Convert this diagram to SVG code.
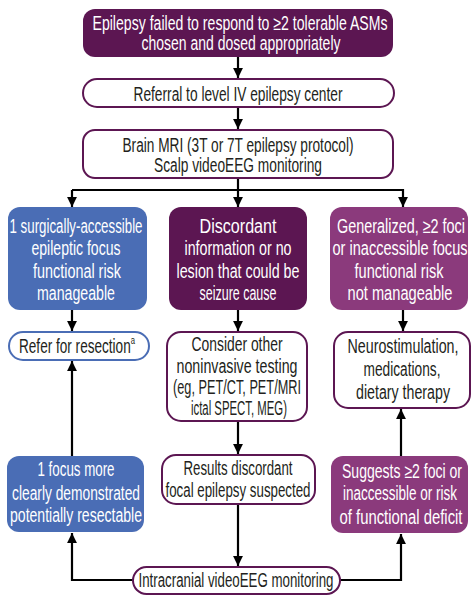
<svg xmlns="http://www.w3.org/2000/svg" width="474" height="604" viewBox="0 0 474 604">
<style>
text{font-family:"Liberation Sans",Arial,sans-serif;font-size:19.5px;text-anchor:middle;dominant-baseline:central;fill:#231f20}
.w{fill:#ffffff}
.dp{fill:#5c1652}
.bl{fill:#4a6db5}
.mp{fill:#8b3a7c}
.ow{fill:#ffffff;stroke:#5c1652;stroke-width:2}
.ob{fill:#ffffff;stroke:#4a6db5;stroke-width:2}
.c path{fill:none;stroke:#000;stroke-width:2.2}
</style>
<defs>
<marker id="ah" viewBox="0 0 10 10" refX="10" refY="5" markerWidth="4.5" markerHeight="4.5" orient="auto" markerUnits="strokeWidth">
<path d="M0,0 L10,5 L0,10 z" fill="#000"/>
</marker>
</defs>
<g class="c">
<path d="M238,57 V78" marker-end="url(#ah)"/>
<path d="M238,107 V129" marker-end="url(#ah)"/>
<path d="M238,178 V190"/>
<path d="M72,190 H403 V207" marker-end="url(#ah)"/>
<path d="M72,190 V207" marker-end="url(#ah)"/>
<path d="M238,190 V207" marker-end="url(#ah)"/>
<path d="M72,310 V331" marker-end="url(#ah)"/>
<path d="M238,310 V331" marker-end="url(#ah)"/>
<path d="M403,310 V331" marker-end="url(#ah)"/>
<path d="M72,456 V361" marker-end="url(#ah)"/>
<path d="M238,421 V454" marker-end="url(#ah)"/>
<path d="M401,456 V409" marker-end="url(#ah)"/>
<path d="M238,504 V566" marker-end="url(#ah)"/>
<path d="M133,580 H72 V533" marker-end="url(#ah)"/>
<path d="M340,580 H401 V534" marker-end="url(#ah)"/>
</g>
<g id="n1"><rect class="dp" x="83" y="9" width="310" height="48" rx="12"/><text class="w" x="240" y="23" textLength="295" lengthAdjust="spacingAndGlyphs">Epilepsy failed to respond to ≥2 tolerable ASMs</text><text class="w" x="241" y="43" textLength="199" lengthAdjust="spacingAndGlyphs">chosen and dosed appropriately</text></g>
<g id="n2"><rect class="ow" x="83" y="79" width="311" height="28" rx="14"/><text x="238" y="94" textLength="209" lengthAdjust="spacingAndGlyphs">Referral to level IV epilepsy center</text></g>
<g id="n3"><rect class="ow" x="83" y="130" width="310" height="48" rx="12"/><text x="238" y="145" textLength="231" lengthAdjust="spacingAndGlyphs">Brain MRI (3T or 7T epilepsy protocol)</text><text x="238" y="165" textLength="168" lengthAdjust="spacingAndGlyphs">Scalp videoEEG monitoring</text></g>
<g id="n4"><rect class="bl" x="8" y="207" width="139" height="103" rx="12"/><text class="w" x="76" y="226" textLength="133" lengthAdjust="spacingAndGlyphs">1 surgically-accessible</text><text class="w" x="76" y="248" textLength="89" lengthAdjust="spacingAndGlyphs">epileptic focus</text><text class="w" x="77" y="271" textLength="88" lengthAdjust="spacingAndGlyphs">functional risk</text><text class="w" x="76" y="293" textLength="78" lengthAdjust="spacingAndGlyphs">manageable</text></g>
<g id="n5"><rect class="dp" x="169" y="207" width="138" height="103" rx="12"/><text class="w" x="238" y="226" textLength="77" lengthAdjust="spacingAndGlyphs">Discordant</text><text class="w" x="238" y="248" textLength="107" lengthAdjust="spacingAndGlyphs">information or no</text><text class="w" x="238" y="271" textLength="123" lengthAdjust="spacingAndGlyphs">lesion that could be</text><text class="w" x="238" y="293" textLength="77" lengthAdjust="spacingAndGlyphs">seizure cause</text></g>
<g id="n6"><rect class="mp" x="330" y="207" width="138" height="103" rx="12"/><text class="w" x="401" y="226" textLength="128" lengthAdjust="spacingAndGlyphs">Generalized, ≥2 foci</text><text class="w" x="400" y="248" textLength="135" lengthAdjust="spacingAndGlyphs">or inaccessible focus</text><text class="w" x="399" y="271" textLength="89" lengthAdjust="spacingAndGlyphs">functional risk</text><text class="w" x="400" y="293" textLength="105" lengthAdjust="spacingAndGlyphs">not manageable</text></g>
<g id="n7"><rect class="ob" x="9" y="332" width="140" height="28" rx="14"/><text x="77" y="346" textLength="116" lengthAdjust="spacingAndGlyphs">Refer for resection<tspan font-size="11" dy="-6">a</tspan></text></g>
<g id="n8"><rect class="ow" x="167" y="332" width="140" height="89" rx="14"/><text x="237" y="344" textLength="91" lengthAdjust="spacingAndGlyphs">Consider other</text><text x="237" y="366" textLength="121" lengthAdjust="spacingAndGlyphs">noninvasive testing</text><text x="237" y="387" textLength="128" lengthAdjust="spacingAndGlyphs">(eg, PET/CT, PET/MRI</text><text x="239" y="408" textLength="96" lengthAdjust="spacingAndGlyphs">ictal SPECT, MEG)</text></g>
<g id="n9"><rect class="ow" x="334" y="332" width="136" height="76" rx="14"/><text x="403" y="346" textLength="111" lengthAdjust="spacingAndGlyphs">Neurostimulation,</text><text x="402" y="369" textLength="77" lengthAdjust="spacingAndGlyphs">medications,</text><text x="403" y="392" textLength="94" lengthAdjust="spacingAndGlyphs">dietary therapy</text></g>
<g id="n10"><rect class="bl" x="7" y="456" width="137" height="76" rx="12"/><text class="w" x="76" y="469" textLength="77" lengthAdjust="spacingAndGlyphs">1 focus more</text><text class="w" x="76" y="493" textLength="128" lengthAdjust="spacingAndGlyphs">clearly demonstrated</text><text class="w" x="76" y="515" textLength="132" lengthAdjust="spacingAndGlyphs">potentially resectable</text></g>
<g id="n11"><rect class="ow" x="162" y="455" width="153" height="49" rx="14"/><text x="238" y="468" textLength="109" lengthAdjust="spacingAndGlyphs">Results discordant</text><text x="238" y="490" textLength="145" lengthAdjust="spacingAndGlyphs">focal epilepsy suspected</text></g>
<g id="n12"><rect class="mp" x="331" y="456" width="137" height="77" rx="12"/><text class="w" x="402" y="471" textLength="120" lengthAdjust="spacingAndGlyphs">Suggests ≥2 foci or</text><text class="w" x="400" y="493" textLength="114" lengthAdjust="spacingAndGlyphs">inaccessible or risk</text><text class="w" x="401" y="517" textLength="123" lengthAdjust="spacingAndGlyphs">of functional deficit</text></g>
<g id="n13"><rect class="ow" x="133" y="567" width="207" height="27" rx="13.5"/><text x="236" y="580" textLength="195" lengthAdjust="spacingAndGlyphs">Intracranial videoEEG monitoring</text></g>
</svg>
